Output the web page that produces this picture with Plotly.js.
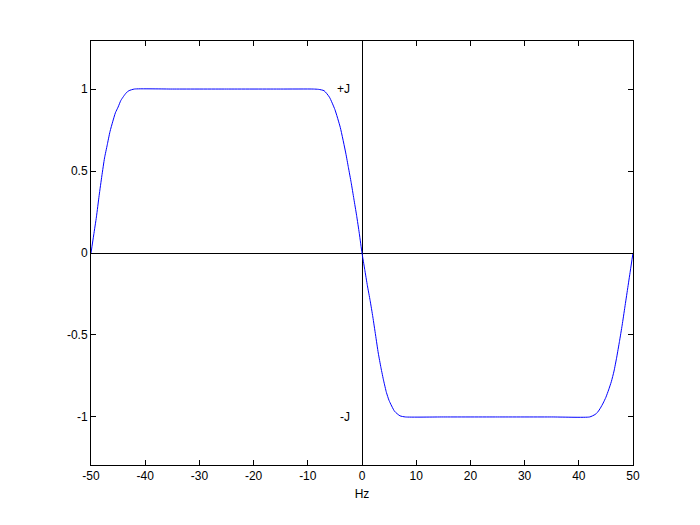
<!DOCTYPE html>
<html>
<head>
<meta charset="utf-8">
<script src="https://cdn.plot.ly/plotly-3.0.1.min.js"></script>
<style>html,body{margin:0;padding:0;background:#fff;}#chart{width:700px;height:525px;}</style>
</head>
<body>
<div id="chart"></div>
<script>
// Frequency (Hz)
const freqHz = [
  -50, -49.5, -49, -48.5, -48, -47.5, -47, -46.5, -46, -45.5, -45, -44.5, -44, -43.5, -43, -42,
  -35, -25, -15, -9,
  -8, -7, -6, -5, -4, -3, -2.5, -2, -1.5, -1, -0.5, 0,
  0.5, 1, 1.5, 2, 2.5, 3, 3.5, 4, 4.5, 5, 6, 7, 8,
  15, 25, 35, 42,
  43, 43.5, 44, 44.5, 45, 45.5, 46, 46.5, 47, 47.5, 48, 48.5, 49, 49.5, 50
];
// Response (imaginary part)
const response = [
  0, 0.11, 0.22, 0.35, 0.47, 0.58, 0.66, 0.74, 0.80, 0.855, 0.89, 0.93, 0.955, 0.977, 0.99, 1.0,
  1.0, 1.0, 1.0, 1.0,
  0.998, 0.99, 0.95, 0.875, 0.765, 0.61, 0.52, 0.43, 0.33, 0.23, 0.12, 0,
  -0.10, -0.20, -0.29, -0.39, -0.50, -0.61, -0.70, -0.78, -0.85, -0.90, -0.965, -0.993, -1.0,
  -1.0, -1.0, -1.0, -1.0,
  -0.985, -0.97, -0.945, -0.915, -0.88, -0.835, -0.785, -0.72, -0.635, -0.54, -0.44, -0.33, -0.22, -0.11, 0
];
const xTicks = [-50, -40, -30, -20, -10, 0, 10, 20, 30, 40, 50];
const yTicks = [-1, -0.5, 0, 0.5, 1];
const yTickText = ["-1", "-0.5", "0", "0.5", "1"];
const markLabels = ["+J", "-J"];
const markValues = [1, -1];

const fontFam = "Liberation Sans, Arial, sans-serif";

const trace = {
  x: freqHz, y: response, type: "scatter", mode: "lines",
  line: {color: "#0000ff", width: 1, shape: "spline", smoothing: 0.5},
  hoverinfo: "skip"
};

const axisCommon = {
  showline: true, linecolor: "#000", linewidth: 1, mirror: "ticks",
  ticks: "inside", ticklen: 5, tickcolor: "#000", tickwidth: 1,
  showgrid: false, zeroline: true, zerolinecolor: "#000", zerolinewidth: 1,
  tickfont: {family: fontFam, size: 12, color: "#000"}
};

const layout = {
  width: 700, height: 525,
  margin: {l: 91, r: 67, t: 41, b: 60},
  paper_bgcolor: "#fff", plot_bgcolor: "#fff",
  showlegend: false,
  xaxis: Object.assign({}, axisCommon, {
    range: [-50, 50], tickmode: "array", tickvals: xTicks,
    ticktext: xTicks.map(String),
    title: {text: "Hz", font: {family: fontFam, size: 12, color: "#000"}, standoff: 7}
  }),
  yaxis: Object.assign({}, axisCommon, {
    range: [-1.293, 1.293], tickmode: "array", tickvals: yTicks, ticktext: yTickText
  }),
  annotations: markLabels.map((t, i) => ({
    x: -1.9, y: markValues[i], xref: "x", yref: "y", text: t, showarrow: false,
    xanchor: "right", yanchor: "middle",
    font: {family: fontFam, size: 12, color: "#000"}
  }))
};

Plotly.newPlot("chart", [trace], layout, {displayModeBar: false, staticPlot: true});
</script>
</body>
</html>
